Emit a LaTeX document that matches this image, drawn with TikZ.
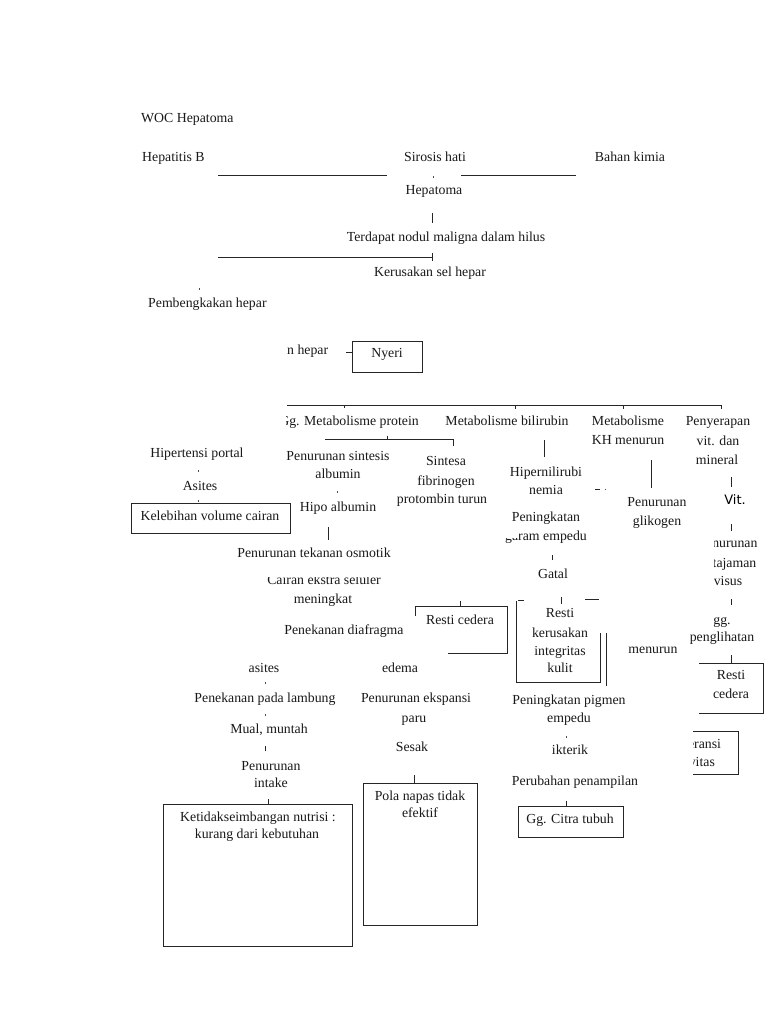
\documentclass[tikz,border=0pt]{standalone}
\usepackage{fontspec}
\setmainfont{Liberation Serif}
\newfontfamily\vitfont{DejaVu Sans}
\newcommand\woctxt{\fontsize{13.8}{16}\selectfont}
\begin{document}
\begin{tikzpicture}[x=1pt,y=-1pt,
  lbl/.style={inner sep=0pt, text height=9pt, text depth=0pt, font=\woctxt, text=black!90},
  ln/.style={line width=0.9pt, draw=black!85},
  dotmk/.style={line width=0.8pt, draw=black!70}]
\useasboundingbox (0,0) rectangle (768,1024);
\fill[white] (0,0) rectangle (768,1024);

% ---- top ----
\node[lbl,anchor=west] (title) at (141,118) {WOC Hepatoma};
\node[lbl,anchor=west] (hepb) at (142,157) {Hepatitis B};
\node[lbl] (sirosis) at (435,157) {Sirosis hati};
\node[lbl] (bahan) at (630,157) {Bahan kimia};
\draw[ln] (218,175) -- (387,175);
\draw[ln] (461,175) -- (576,175);
\draw[dotmk] (433,176) -- (433,178);
\node[lbl] (hepatoma) at (434,190) {Hepatoma};
\draw[ln] (432,213) -- (432,223);
\node[lbl] (nodul) at (446,237) {Terdapat nodul maligna dalam hilus};
\draw[ln] (218,257) -- (432,257);
\draw[ln] (432,253) -- (432,261);
\node[lbl] (kerusakan) at (430,272) {Kerusakan sel hepar};
\draw[dotmk] (199,288) -- (199,290);
\node[lbl,anchor=west] (pembengkakan) at (148,303) {Pembengkakan hepar};
\node[lbl,anchor=west] (nhepar) at (287,350) {n hepar};
\draw[ln] (346,352) -- (352,352);
\draw[ln] (352,341) rectangle (422,372);
\node[lbl] (nyeri) at (387,353) {Nyeri};

% ---- main branch line ----
\draw[ln] (287,405) -- (721,405) -- (721,409);
\draw[ln] (344,405) -- (344,408);
\draw[ln] (515,405) -- (515,409);
\draw[ln] (623,405) -- (623,409);

\begin{scope}
  \clip (286,410) rectangle (432,432);
  \node[lbl,anchor=east] (metprot) at (419,421) {Gg. Metabolisme protein};
\end{scope}
\node[lbl] (metbil) at (507,421) {Metabolisme bilirubin};
\node[lbl] (metkh1) at (628,421) {Metabolisme};
\node[lbl] (metkh2) at (628,440) {KH menurun};
\node[lbl] (peny1) at (718,421) {Penyerapan};
\node[lbl] (peny2) at (718,441) {vit. dan};
\node[lbl] (peny3) at (717,460) {mineral};

% ---- protein branch ----
\draw[ln] (325,439) -- (453,439) -- (453,446);
\draw[ln] (387,436) -- (387,439);
\node[lbl] (hiport) at (197,453) {Hipertensi portal};
\draw[dotmk] (198,470) -- (198,472);
\node[lbl] (asites1) at (200,486) {Asites};
\draw[dotmk] (198,500) -- (198,502);
\draw[ln] (131,503) rectangle (290,533);
\node[lbl] (kelebihan) at (210,516) {Kelebihan volume cairan};

\node[lbl] (pensin1) at (338,456) {Penurunan sintesis};
\node[lbl] (pensin2) at (338,474) {albumin};
\draw[dotmk] (337,491) -- (337,493);
\node[lbl] (hipoalb) at (338,507) {Hipo albumin};
\draw[ln] (328,527) -- (328,540);
\node[lbl] (tekanan) at (314,553) {Penurunan tekanan osmotik};
\begin{scope}
  \clip (240,577.5) rectangle (410,592);
  \node[lbl] (cairan1) at (324,580) {Cairan ekstra seluler};
\end{scope}
\node[lbl] (cairan2) at (323,599) {meningkat};
\node[lbl] (diafragma) at (344,630) {Penekanan diafragma};

\node[lbl] (sint1) at (446,461) {Sintesa};
\node[lbl] (sint2) at (446,481) {fibrinogen};
\node[lbl] (sint3) at (442,499) {protombin turun};

% middle Resti cedera
\draw[ln] (460,601) -- (460,606);
\draw[ln] (415,616) -- (415,606) -- (507,606) -- (507,653) -- (448,653);
\node[lbl] (resticed1) at (460,620) {Resti cedera};

% ---- left lower column ----
\node[lbl] (asites2) at (264,668) {asites};
\draw[dotmk] (265,682) -- (265,684);
\node[lbl] (lambung) at (265,698) {Penekanan pada lambung};
\draw[dotmk] (265,714) -- (265,716);
\node[lbl] (mual) at (269,729) {Mual, muntah};
\draw[ln] (265,746) -- (265,751);
\node[lbl] (intake1) at (271,766) {Penurunan};
\node[lbl] (intake2) at (271,783) {intake};
\draw[ln] (268,799) -- (268,804);
\draw[ln] (163,804) rectangle (352,946);
\node[lbl] (nutrisi1) at (258,817) {Ketidakseimbangan nutrisi :};
\node[lbl] (nutrisi2) at (257,834) {kurang dari kebutuhan};

\node[lbl] (edema) at (400,668) {edema};
\node[lbl] (ekspansi1) at (416,698) {Penurunan ekspansi};
\node[lbl] (ekspansi2) at (414,718) {paru};
\node[lbl] (sesak) at (412,747) {Sesak};
\draw[ln] (414,775) -- (414,783);
\draw[ln] (363,783) rectangle (477,925);
\node[lbl] (pola1) at (420,796) {Pola napas tidak};
\node[lbl] (pola2) at (420,813) {efektif};

% ---- bilirubin branch ----
\draw[ln] (544,440) -- (544,457);
\node[lbl] (hiperb1) at (546,472) {Hipernilirubi};
\node[lbl] (hiperb2) at (546,490) {nemia};
\draw[ln] (595,489) -- (600,489);
\draw[dotmk] (604.5,489) -- (606,489);
\node[lbl] (garam1) at (546,517) {Peningkatan};
\begin{scope}
  \clip (498,537.5) rectangle (519,546) (519,526) rectangle (600,546);
  \node[lbl] (garam2) at (546,536) {garam empedu};
\end{scope}
\draw[ln] (552,555) -- (552,560);
\node[lbl] (gatal) at (553,574) {Gatal};
\draw[ln] (518,600) -- (524,600);
\draw[ln] (561,597) -- (561,604);
\draw[ln] (585,599) -- (599,599);
\draw[ln] (516,601) -- (516,682) -- (600,682) -- (600,633);
\draw[ln] (606,633) -- (606,686);
\node[lbl] (restik1) at (560,613) {Resti};
\node[lbl] (restik2) at (560,633) {kerusakan};
\node[lbl] (restik3) at (560,651) {integritas};
\node[lbl] (restik4) at (560,668) {kulit};
\node[lbl] (menurun) at (653,649) {menurun};
\node[lbl] (pigmen1) at (569,700) {Peningkatan pigmen};
\node[lbl] (pigmen2) at (569,718) {empedu};
\draw[dotmk] (566,736) -- (566,738);
\node[lbl] (ikterik) at (570,750) {ikterik};
\node[lbl] (penampilan) at (575,781) {Perubahan penampilan};
\draw[ln] (566,801) -- (566,806);
\draw[ln] (518,806) rectangle (623,837);
\node[lbl] (citra) at (570,819) {Gg. Citra tubuh};

% ---- KH branch ----
\draw[ln] (651,460) -- (651,488);
\node[lbl] (glik1) at (657,502) {Penurunan};
\node[lbl] (glik2) at (657,521) {glikogen};

% ---- vitamin branch ----
\draw[ln] (731,477) -- (731,487);
\node[inner sep=0pt, text height=9pt, text depth=0pt, font=\vitfont\fontsize{13}{15}\selectfont] (vit) at (735,500) {Vit.};
\draw[ln] (731,524) -- (731,531);
\begin{scope}
  \clip (714,532) rectangle (768,592);
  \node[lbl] (visus1) at (728,543) {Penurunan};
  \node[lbl] (visus2) at (728,563) {ketajaman};
  \node[lbl] (visus3) at (728,581) {visus};
\end{scope}
\draw[ln] (731,599) -- (731,605);
\node[lbl] (gg1) at (722,620) {gg.};
\node[lbl] (gg2) at (722,637) {penglihatan};
\draw[ln] (731.5,655) -- (731.5,663);
\draw[ln] (699,663) -- (763,663) -- (763,713) -- (699,713);
\node[lbl] (resticed2a) at (731,675) {Resti};
\node[lbl] (resticed2b) at (731,694) {cedera};
\draw[ln] (693,731) -- (738,731) -- (738,774) -- (693,774);
\begin{scope}
  \clip (693,733) rectangle (737,772);
  \node[lbl] (intol1) at (691.5,744) {Intoleransi};
  \node[lbl] (intol2) at (691.5,762) {aktivitas};
\end{scope}
\end{tikzpicture}
\end{document}
